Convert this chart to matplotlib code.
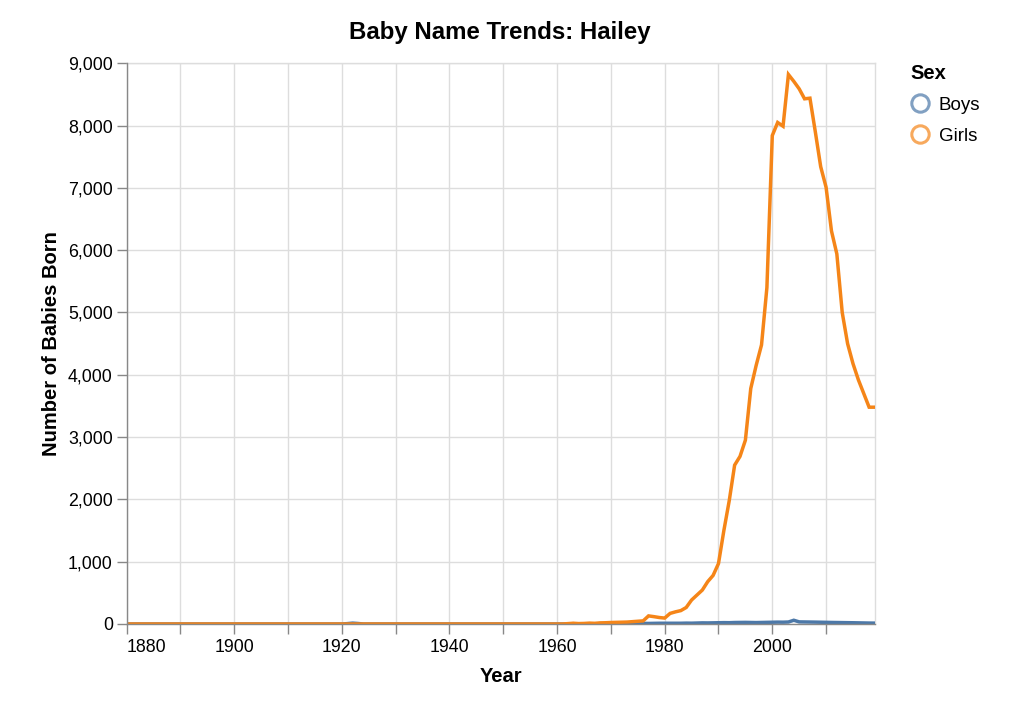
import matplotlib
matplotlib.use("Agg")
import matplotlib.pyplot as plt
from matplotlib.lines import Line2D
from matplotlib.ticker import FuncFormatter, MultipleLocator

plt.rcParams['font.family'] = ['Liberation Sans', 'DejaVu Sans']

years = list(range(1880, 2020))

girls = [
    0, 0, 0, 0, 0, 0, 0, 0, 0, 0,            # 1880
    0, 0, 0, 0, 0, 0, 0, 0, 0, 0,            # 1890
    0, 0, 0, 0, 0, 0, 0, 0, 0, 0,            # 1900
    0, 0, 0, 0, 0, 0, 0, 0, 0, 0,            # 1910
    0, 0, 0, 0, 0, 0, 0, 0, 0, 0,            # 1920
    0, 0, 0, 0, 0, 0, 0, 0, 0, 0,            # 1930
    0, 0, 0, 0, 0, 0, 0, 0, 0, 0,            # 1940
    0, 0, 0, 0, 0, 0, 0, 0, 0, 0,            # 1950
    0, 0, 6, 12, 7, 9, 14, 11, 18, 20,       # 1960
    24, 26, 29, 31, 38, 44, 50, 130, 118, 104,  # 1970
    95, 170, 195, 215, 265, 385, 465, 545, 680, 780,  # 1980
    970, 1500, 1980, 2550, 2690, 2950, 3780, 4150, 4480, 5400,  # 1990
    7840, 8050, 7990, 8820, 8710, 8590, 8430, 8440, 7900, 7340,  # 2000
    7010, 6310, 5940, 5000, 4500, 4180, 3920, 3700, 3480, 3480,  # 2010
]

boys = [
    0, 0, 0, 0, 0, 0, 0, 0, 0, 0,            # 1880
    0, 0, 0, 0, 0, 0, 0, 0, 0, 0,            # 1890
    0, 0, 0, 0, 0, 0, 0, 0, 0, 0,            # 1900
    0, 0, 0, 0, 0, 0, 0, 0, 0, 0,            # 1910
    0, 6, 14, 8, 0, 0, 0, 0, 0, 0,           # 1920
    0, 0, 0, 0, 0, 0, 0, 0, 0, 0,            # 1930
    0, 0, 0, 0, 0, 0, 0, 0, 0, 0,            # 1940
    0, 0, 0, 0, 0, 0, 0, 0, 0, 0,            # 1950
    0, 0, 0, 5, 0, 0, 5, 0, 6, 5,            # 1960
    5, 6, 7, 6, 8, 9, 10, 9, 11, 12,         # 1970
    12, 11, 13, 12, 14, 13, 15, 18, 17, 19,  # 1980
    20, 22, 21, 24, 25, 26, 24, 23, 25, 26,  # 1990
    28, 30, 29, 32, 60, 34, 33, 31, 30, 28,  # 2000
    27, 25, 24, 22, 21, 20, 18, 17, 15, 14,  # 2010
]

series_names = ["Boys", "Girls"]
series_colors = ["#4c78a8", "#f58518"]

fig = plt.figure(figsize=(10.24, 7.01), dpi=100)
ax = fig.add_axes([126.7 / 1024, 1 - 624 / 701, (874.5 - 126.7) / 1024, (624 - 63.3) / 701])

lw = 2.5
ax.plot(years, boys, color=series_colors[0], lw=lw, solid_joinstyle='miter', zorder=3)
ax.plot(years, girls, color=series_colors[1], lw=lw, solid_joinstyle='miter', zorder=4)

ax.set_xlim(1880, 2019)
ax.set_ylim(0, 9000)

ax.xaxis.set_major_locator(MultipleLocator(10))
ax.yaxis.set_major_locator(MultipleLocator(1000))
ax.yaxis.set_major_formatter(FuncFormatter(lambda v, p: f"{int(v):,}"))


def xfmt(v, p):
    y = int(round(v))
    return str(y) if (y % 20 == 0) else ""


ax.xaxis.set_major_formatter(FuncFormatter(xfmt))

ax.grid(True, color="#dddddd", lw=1.0, zorder=0)
ax.set_axisbelow(True)

for side in ["top", "right"]:
    ax.spines[side].set_color("#dddddd")
    ax.spines[side].set_linewidth(1.0)
for side in ["left", "bottom"]:
    ax.spines[side].set_color("#888888")
    ax.spines[side].set_linewidth(1.0)
    ax.spines[side].set_zorder(5)

ax.tick_params(axis="both", colors="#888888", length=7, width=1.0,
               labelcolor="black", labelsize=12.8)
ax.tick_params(axis="x", pad=4)
ax.tick_params(axis="y", pad=3)

fig.canvas.draw()
for lbl in ax.get_xticklabels():
    if lbl.get_text() == "1880":
        lbl.set_horizontalalignment("left")

ax.set_xlabel("Year", fontsize=14.5, fontweight="bold", labelpad=8)
ax.set_ylabel("Number of Babies Born", fontsize=14.5, fontweight="bold", labelpad=5)

fig.text(500 / 1024, 1 - 32 / 701, "Baby Name Trends: Hailey", ha="center", va="center",
         fontsize=17.3, fontweight="bold")

handles = [Line2D([], [], linestyle="none", marker="o", markersize=12.5,
                  markerfacecolor="none", markeredgecolor=c, markeredgewidth=2.2, alpha=0.7)
           for c in series_colors]
leg = fig.legend(handles, series_names, title="Sex", loc="upper left",
                 bbox_to_anchor=(901 / 1024, 1 - 55 / 701), frameon=False,
                 fontsize=13.5, title_fontproperties={"weight": "bold", "size": 14.5},
                 handletextpad=0.5, labelspacing=0.72, alignment="left",
                 handlelength=1.0, borderpad=0.0)

fig.savefig("out.png", dpi=100)
